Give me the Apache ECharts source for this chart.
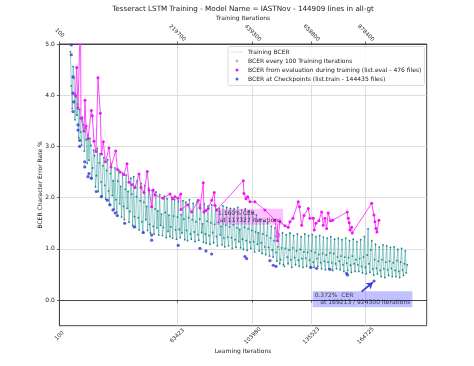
<!DOCTYPE html>
<html><head><meta charset="utf-8">
<script src="https://cdn.jsdelivr.net/npm/echarts@6/dist/echarts.min.js"></script>
<style>html,body{margin:0;padding:0;background:#fff}#c{width:474px;height:366px}</style>
</head><body><div id="c"></div>
<script>
// ---- data ----
const titleText = 'Tesseract LSTM Training - Model Name = IASTNov - 144909 lines in all-gt';
const learnTicks = [100, 63423, 103980, 135523, 164725];
const trainTickLabels = ['100', '219700', '439300', '658800', '878400'];
const yTicks = [0, 1, 2, 3, 4, 5];

const trainStart = 6000, trainStep = 500;
const trainBCER = [
4.85,4.18,3.74,4.56,4.33,3.52,3.97,3.61,3.83,3.17,
3.72,3.28,3.03,3.57,3.42,2.91,3.36,3.13,2.67,3.22,
2.73,3.16,3.02,2.37,2.58,2.93,2.82,2.21,2.43,2.96,
2.12,2.68,2.86,2.31,2.03,2.62,2.78,2.24,1.97,2.53,
2.74,2.13,1.86,2.47,2.66,2.04,2.33,1.77,2.58,1.96,
1.71,2.32,2.54,1.88,2.22,1.62,2.48,1.83,1.57,2.16,
2.44,1.79,2.12,1.52,1.73,2.38,2.07,1.46,2.41,1.63,
1.42,2.02,2.33,1.61,1.37,1.94,2.28,1.53,1.32,1.91,
2.24,1.57,1.83,1.36,2.19,1.48,1.31,1.82,2.14,1.44,
1.29,1.78,2.11,1.41,1.74,1.27,2.06,1.46,1.68,1.26,
1.42,2.03,1.71,1.22,1.98,1.34,1.66,1.24,1.43,2.01,
1.21,1.64,1.96,1.37,1.19,1.62,1.93,1.38,1.22,1.67,
1.31,1.94,1.58,1.18,1.91,1.36,1.16,1.61,1.96,1.29,
1.19,1.57,1.89,1.33,1.14,1.53,1.91,1.28,1.17,1.58,
1.86,1.32,1.49,1.13,1.88,1.29,1.11,1.54,1.84,1.26,
1.09,1.51,1.86,1.32,1.12,1.48,1.83,1.24,1.06,1.52,
1.79,1.27,1.44,1.08,1.84,1.21,1.04,1.46,1.81,1.23,
1.06,1.43,1.79,1.22,1.01,1.47,1.78,1.18,1.03,1.41,
1.81,1.14,1.38,1.02,1.76,1.19,0.99,1.42,1.78,1.16,
0.97,1.39,1.74,1.13,1.01,1.36,1.71,1.14,0.94,1.33,
1.66,1.09,1.31,0.96,1.58,1.12,0.91,1.29,1.54,1.04,
0.89,1.26,1.51,1.03,0.86,1.21,1.44,0.98,0.84,1.16,
1.41,0.93,0.76,1.04,1.29,0.71,0.79,1.02,1.31,0.69,
0.66,1.01,1.28,0.84,0.71,0.98,1.31,0.79,0.64,1.02,
1.26,0.83,0.69,0.96,1.29,0.78,0.66,0.99,1.24,0.81,
0.64,0.94,1.29,0.82,0.66,0.93,1.26,0.78,0.63,0.96,
1.28,0.74,0.64,0.93,1.24,0.81,0.66,0.89,1.26,0.73,
0.61,0.91,1.23,0.76,0.59,0.88,1.21,0.74,0.61,0.92,
1.24,0.73,0.58,0.91,1.19,0.71,0.61,0.84,1.21,0.76,
0.59,0.86,1.18,0.69,0.56,0.84,1.21,0.72,0.58,0.83,
1.16,0.68,0.54,0.86,1.19,0.71,0.56,0.79,1.14,0.69,
0.56,0.81,1.18,0.66,0.53,0.84,1.24,0.64,0.51,0.88,
1.39,0.71,0.54,0.98,1.16,0.61,0.49,0.79,1.09,0.62,
0.51,0.76,1.04,0.58,0.46,0.79,1.08,0.61,0.44,0.74,
1.06,0.59,0.48,0.76,1.03,0.62,0.46,0.73,1.04,0.58,
0.46,0.77,0.99,0.56,0.44,0.74,1.01,0.59,0.48,0.71,
0.96,0.53,0.69];

const evalIter = [8750,9395,10094,11437,11706,13318,13855,14392,15467,17240,17777,18691,19765,20840,22076,22720,23687,24870,26750,27825,30350,31317,32660,34810,36421,37496,39108,40720,42869,43944,45556,47329,48242,49693,50552,51466,55764,59525,60976,62212,63824,65274,65436,69036,71185,74731,75644,77417,77794,78868,80104,81931,83328,83704,84617,98909,99286,100360,101274,102509,105196,110569,115942,117327,118628,121315,123088,124001,125613,128461,129106,130288,131524,133834,134747,136520,137058,137971,139583,141034,141893,142807,143720,144580,145762,146944,154789,155326,155863,156239,157153,157475,167901,169137,169672,170210,170748,171823];
const evalBCER = [4.0,4.54,3.75,5.6,3.55,3.3,3.9,3.4,3.15,3.7,3.6,3.1,2.9,4.34,3.65,2.85,3.09,2.7,2.97,2.6,2.91,2.55,2.5,2.45,2.66,2.3,2.25,2.2,2.46,2.2,2.1,2.51,2.15,1.82,2.15,2.05,1.99,2.07,1.98,2.02,1.99,2.07,1.77,1.86,1.72,1.95,1.8,2.29,1.72,1.75,1.79,1.95,2.1,1.85,1.76,2.33,2.08,1.98,2.02,1.92,1.92,1.76,1.56,1.16,1.53,1.45,1.42,1.53,1.6,1.92,1.82,1.46,1.65,1.79,1.6,1.6,1.37,1.5,1.55,1.72,1.46,1.6,1.4,1.7,1.55,1.56,1.72,1.6,1.51,1.37,1.42,1.31,1.89,1.66,1.53,1.4,1.33,1.56];

const ckptIter = [6494,6494,7407,7407,7783,7407,10094,10094,11007,11007,13694,13694,15467,16004,17240,19927,22613,25837,27288,28900,30136,31210,35186,40182,45179,49692,49692,63985,75644,78868,81931,99823,100737,113255,115028,116479,135285,138348,145493,154466,155000,169213];
const ckptBCER = [4.98,4.79,4.36,4.04,3.87,3.68,3.42,3.32,3.12,3.0,2.7,2.6,2.41,2.47,2.38,2.12,2.02,1.95,1.86,1.76,1.7,1.65,1.5,1.43,1.32,1.27,1.17,1.07,1.01,0.96,0.9,0.85,0.81,0.77,0.68,0.66,0.64,0.62,0.6,0.52,0.49,0.372];
const bestCkptTrainIter = 924300;

const seriesNames = ['Training BCER', 'BCER every 100 Training Iterations',
  'BCER from evaluation during training (list.eval - 476 files)',
  'BCER at Checkpoints (list.train - 144435 files)'];

// ---- build ----
const trainPts = trainBCER.map((v, i) => [trainStart + i * trainStep, v]);
const evalPts = evalIter.map((x, i) => [x, evalBCER[i]]);
const ckptPts = ckptIter.map((x, i) => [x, ckptBCER[i]]);
let ei = 0; evalBCER.forEach((v, i) => { if (v < evalBCER[ei]) ei = i; });
let ci = 0; ckptBCER.forEach((v, i) => { if (v < ckptBCER[ci]) ci = i; });
const evalMin = [evalIter[ei], evalBCER[ei]];
const ckptMin = [ckptIter[ci], ckptBCER[ci]];

const FONT = 'DejaVu Sans';
const TXT = '#222';
const chart = echarts.init(document.getElementById('c'), null, {renderer: 'canvas'});
chart.setOption({
  animation: false,
  backgroundColor: '#fff',
  title: {text: titleText, left: 243, textAlign: 'center', top: 5.2, padding: 0,
    textStyle: {fontFamily: FONT, fontSize: 7.2, fontWeight: 'normal', color: TXT}},
  grid: {left: 59.4, top: 44, width: 367.3, height: 281.7, show: true, borderColor: '#444', borderWidth: 1, backgroundColor: 'transparent'},
  legend: {
    orient: 'vertical', left: 228, top: 46.5, padding: [1, 3, 2, 3], itemGap: 0,
    itemWidth: 12, itemHeight: 3,
    backgroundColor: 'rgba(255,255,255,0.85)', borderColor: '#d0d0d0', borderWidth: 0.8, borderRadius: 2,
    textStyle: {fontFamily: FONT, fontSize: 6, lineHeight: 9, color: TXT},
    data: [
      {name: seriesNames[0], icon: 'path://M0,0 L20,0 L20,1 L0,1 Z', itemStyle: {color: '#c8c8c8'}},
      {name: seriesNames[1], icon: 'circle', itemStyle: {color: '#8cc8c8'}},
      {name: seriesNames[2], icon: 'circle'},
      {name: seriesNames[3], icon: 'circle'}
    ]
  },
  xAxis: [{
    type: 'value', position: 'bottom', min: 100, max: 197500,
    name: 'Learning Iterations', nameLocation: 'middle', nameGap: 22.7, nameMoveOverlap: false,
    nameTextStyle: {fontFamily: FONT, fontSize: 6, color: TXT},
    axisLine: {show: true, lineStyle: {color: '#444', width: 1}},
    axisTick: {show: true, customValues: learnTicks, length: 2.5, lineStyle: {color: '#444', width: 0.8}},
    axisLabel: {customValues: learnTicks, rotate: 45, fontFamily: FONT, fontSize: 5.5, color: TXT,
      align: 'center', verticalAlign: 'middle', margin: 10, formatter: v => String(v)},
    splitLine: {show: true, lineStyle: {color: '#d6d6d6', width: 0.8}}
  }, {
    type: 'value', position: 'top', min: 100, max: 197500,
    name: 'Training Iterations', nameLocation: 'middle', nameGap: 23, nameMoveOverlap: false,
    nameTextStyle: {fontFamily: FONT, fontSize: 6, color: TXT},
    axisLine: {show: true, lineStyle: {color: '#444', width: 1}},
    axisTick: {show: true, customValues: learnTicks, length: 2.5, lineStyle: {color: '#444', width: 0.8}},
    axisLabel: {customValues: learnTicks, rotate: 45, fontFamily: FONT, fontSize: 5.5, color: TXT,
      align: 'center', verticalAlign: 'middle', margin: 11,
      formatter: v => trainTickLabels[learnTicks.indexOf(v)]},
    splitLine: {show: false}
  }],
  yAxis: [{
    type: 'value', min: -0.5, max: 5.0,
    name: 'BCER Character Error Rate %', nameLocation: 'middle', nameGap: 16.3, nameRotate: 90, nameMoveOverlap: false,
    nameTextStyle: {fontFamily: FONT, fontSize: 6, color: TXT},
    axisLine: {show: true, lineStyle: {color: '#444', width: 1}},
    axisTick: {show: true, customValues: yTicks, length: 2.5, lineStyle: {color: '#444', width: 0.8}},
    axisLabel: {customValues: yTicks, fontFamily: FONT, fontSize: 6, color: TXT, margin: 4.5, formatter: v => v.toFixed(1)},
    splitLine: {show: true, lineStyle: {color: '#d6d6d6', width: 0.8}}
  }],
  series: [
    {name: seriesNames[0], type: 'line', data: trainPts, showSymbol: false, symbol: 'none',
      lineStyle: {color: '#229494', width: 0.7, opacity: 0.7}, itemStyle: {color: '#229494'}, z: 1},
    {name: seriesNames[1], type: 'scatter', data: trainPts, symbolSize: 1.8,
      itemStyle: {color: '#0f7a7a', opacity: 0.9}, z: 2},
    {name: seriesNames[2], type: 'line', data: evalPts, symbol: 'circle', symbolSize: 3, showSymbol: true,
      lineStyle: {color: '#ff33ff', width: 0.9}, itemStyle: {color: '#f016f0'}, z: 3},
    {name: seriesNames[3], type: 'scatter', data: ckptPts, symbolSize: 3.2,
      itemStyle: {color: '#3434cf'}, z: 4},
    {type: 'scatter', silent: true, z: 6, symbolSize: 0,
      data: [{value: [84240, 1.627]}],
      label: {show: true, position: 'right', distance: 0, formatter: evalMin[1].toFixed(3) + '% CER\n at ' + evalMin[0] + ' iterations',
        backgroundColor: 'rgba(255,0,255,0.3)', padding: [1, 2, 1, 2], fontFamily: FONT, fontSize: 6, lineHeight: 7, color: '#111'},
      markLine: {silent: true, symbol: ['none', 'arrow'], symbolSize: 5, label: {show: false},
        lineStyle: {color: '#ff44ff', width: 1, type: 'solid'},
        data: [[{coord: [evalMin[0], 1.48]}, {coord: [evalMin[0], evalMin[1] + 0.02]}]]}
    },
    {type: 'scatter', silent: true, z: 6, symbolSize: 0,
      data: [{value: [136200, 0.016]}],
      label: {show: true, position: 'right', distance: 0, formatter: ckptMin[1].toFixed(3) + '%  CER\n   at ' + ckptMin[0] + ' / ' + bestCkptTrainIter + ' iterations',
        backgroundColor: 'rgba(0,0,255,0.3)', padding: [1, 2, 1, 2], fontFamily: FONT, fontSize: 6, lineHeight: 7, color: '#111'},
      markLine: {silent: true, symbol: ['none', 'arrow'], symbolSize: 6, label: {show: false},
        lineStyle: {color: '#3a3ae6', width: 1.8, type: 'solid'},
        data: [[{coord: [162530, 0.166]}, {coord: [ckptMin[0] - 700, ckptMin[1] - 0.03]}]]}
    }
  ]
});
</script></body></html>
